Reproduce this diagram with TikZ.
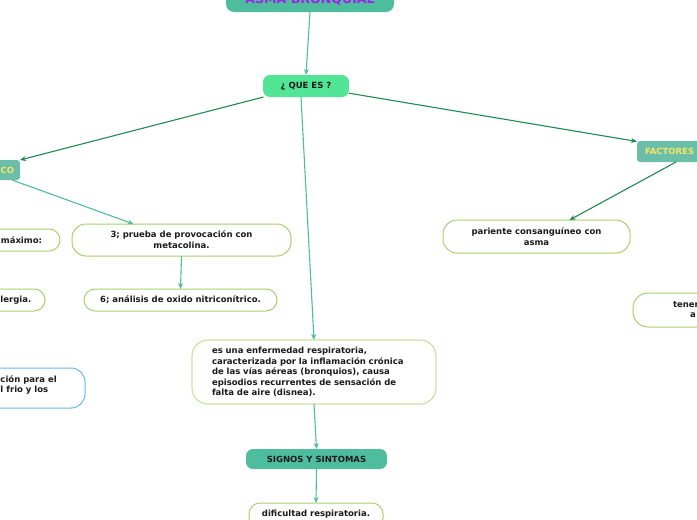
\documentclass[tikz,border=0pt]{standalone}
\usepackage{fontspec}
\setmainfont{DejaVu Sans}
\usetikzlibrary{arrows.meta}
\definecolor{teal1}{HTML}{4DBD9E}
\definecolor{teal2}{HTML}{6BBFA8}
\definecolor{qgreen}{HTML}{52E596}
\definecolor{dgreen}{HTML}{1E8B4E}
\definecolor{leafc}{HTML}{A6D16C}
\definecolor{bigc}{HTML}{C8E4A2}
\definecolor{bluec}{HTML}{62B9EE}
\definecolor{purp}{HTML}{A020F0}
\definecolor{yel}{HTML}{F5E663}
\definecolor{txt}{HTML}{1A1A1A}
\tikzset{
  txtfont/.style={font=\bfseries\fontsize{8.5}{11}\selectfont, text=txt},
  box/.style={inner sep=0pt, outer sep=0pt},
  leaf/.style={box, txtfont, draw=leafc, line width=1pt, fill=white, rounded corners=11pt, align=center},
  topic/.style={box, txtfont, rounded corners=7pt},
  tconn/.style={draw=teal1, line width=1.1pt, -{Stealth[length=6pt,width=5pt]}},
  dconn/.style={draw=dgreen, line width=1.1pt, -{Stealth[length=6pt,width=5pt]}},
}
\begin{document}
\begin{tikzpicture}[x=1pt,y=-1pt]
\useasboundingbox (0,0) rectangle (697,520);
\clip (0,0) rectangle (697,520);
% title
\node[box, fill=teal1, rounded corners=8pt, minimum width=168pt, minimum height=24pt,
  font=\bfseries\fontsize{12.6}{14}\selectfont, text=purp] (title) at (310,0) {ASMA BRONQUIAL};
% que es
\node[topic, fill=qgreen, minimum width=86pt, minimum height=22pt] (quees) at (306,86) {¿ QUE ES ?};
% diagnostico (cut)
\node[box, fill=teal2, rounded corners=3pt, minimum width=40pt, minimum height=20pt] (diag) at (0,170) {};
\node[box, txtfont, text=yel, anchor=east] (diagt) at (14,170) {CO};
% left cut nodes
\node[leaf, minimum width=120pt, minimum height=22pt] (maxb) at (0,240) {};
\node[box, txtfont, anchor=east] (maxt) at (42,240) {máximo:};
\node[leaf, minimum width=90pt, minimum height=22pt] (alerb) at (0,300) {};
\node[box, txtfont, anchor=west] (alert) at (0.5,300) {lergia.};
\node[box, draw=bluec, line width=1pt, fill=white, rounded corners=14pt, minimum width=170pt, minimum height=40pt] (blueb) at (0,388) {};
\node[box, txtfont, anchor=west, align=left, font=\bfseries\fontsize{8.5}{10.5}\selectfont] (bluet) at (0.5,385) {ción para el\\l frio y los};
% prueba
\node[leaf, minimum width=219pt, minimum height=32pt, rounded corners=14pt] (prueba) at (181.5,240) {3; prueba de provocación con\\metacolina.};
\node[leaf, minimum width=193pt, minimum height=22pt] (anal) at (180.5,300) {6; análisis de oxido nitriconítrico.};
% big
\node[box, txtfont, font=\bfseries\fontsize{8.5}{10.5}\selectfont, draw=bigc, line width=1.2pt, fill=white, rounded corners=16pt, minimum width=244pt, minimum height=64pt, text width=204pt, align=left] (big) at (314,372)
 {es una enfermedad respiratoria,\\caracterizada por la inflamación crónica\\de las vías aéreas (bronquios), causa\\episodios recurrentes de sensación de\\falta de aire (disnea).};
% signos
\node[topic, fill=teal1, minimum width=141pt, minimum height=20pt] (signos) at (316.5,459) {SIGNOS Y SINTOMAS};
\node[leaf, minimum width=134pt, minimum height=26pt] (dific) at (316,516) {};
\node[box, txtfont] (dificat) at (316,514) {dificultad respiratoria.};
% factores
\node[box, fill=teal2, rounded corners=3pt, minimum width=120pt, minimum height=21pt] (fact) at (697,151.5) {};
\node[box, txtfont, text=yel, anchor=west] (factt) at (645,151.5) {FACTORES};
\node[leaf, minimum width=187pt, minimum height=33pt, rounded corners=14pt] (par) at (536.5,236.5) {pariente consanguíneo con\\asma};
\node[leaf, minimum width=120pt, minimum height=34pt, rounded corners=15pt] (tenb) at (693,310) {};
\node[box, txtfont, anchor=west] (tent1) at (673,304.5) {tener};
\node[box, txtfont, anchor=west] (tent2) at (690,315.5) {a};
% connectors
\draw[tconn] (title.south) -- (quees.north);
\draw[dconn] (quees) -- (diag.north east);
\draw[dconn] (quees) -- (fact);
\draw[tconn] ([xshift=-5pt]quees.south) -- (big.north);
\draw[tconn] ([xshift=12pt]diag.south) -- ([xshift=-48pt]prueba.north);
\draw[tconn] (prueba.south) -- (anal.north);
\draw[tconn] (big.south) -- (signos.north);
\draw[tconn] (signos.south) -- (dific.north);
\draw[dconn] ([xshift=-21pt]fact.south) -- ([xshift=33pt]par.north);
\end{tikzpicture}
\end{document}
